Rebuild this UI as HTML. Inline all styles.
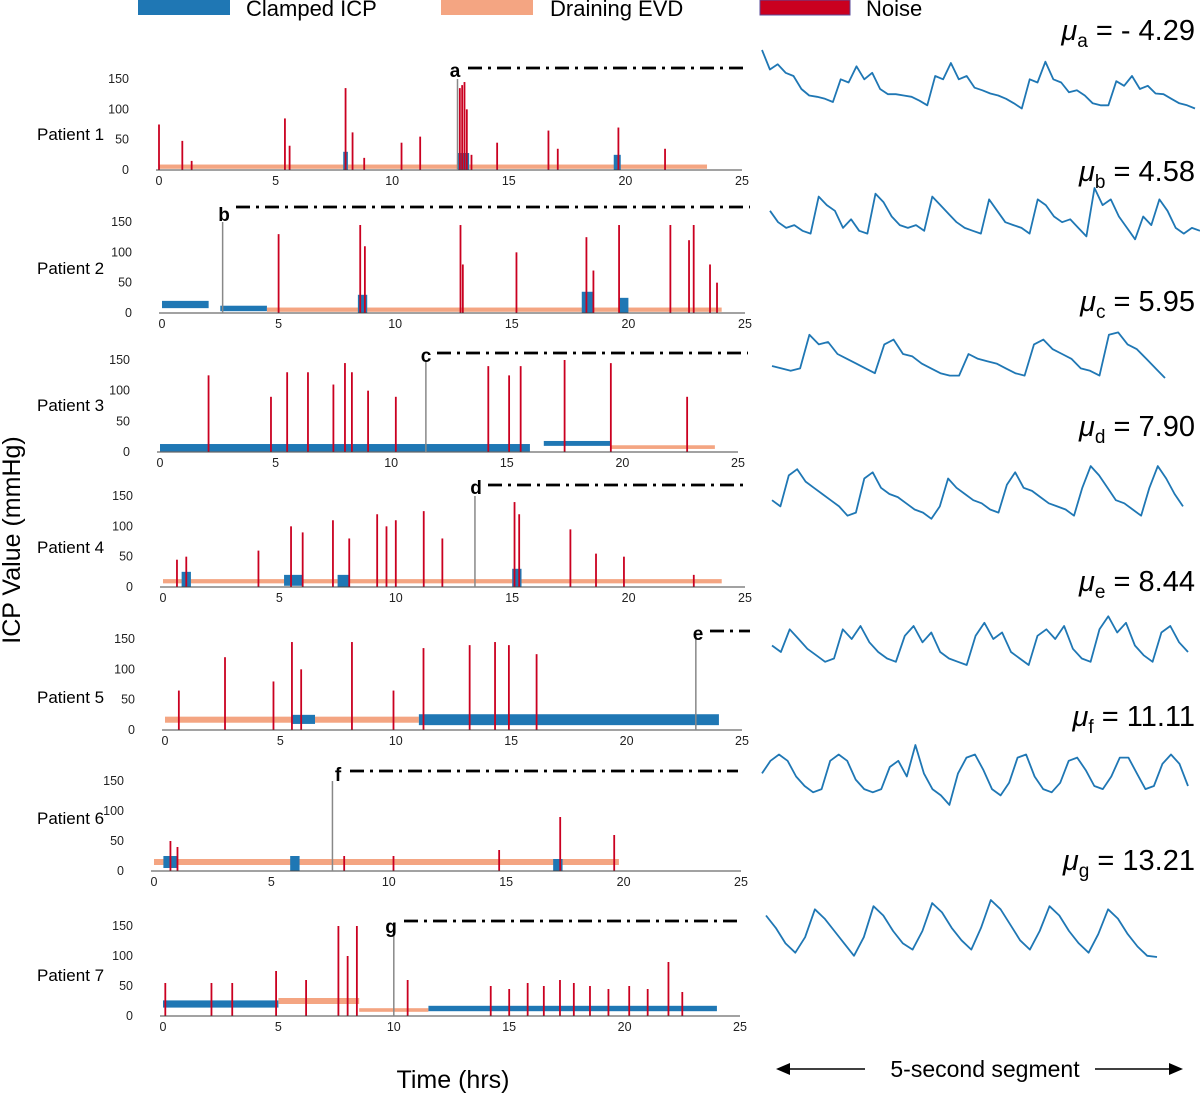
<!DOCTYPE html>
<html><head><meta charset="utf-8">
<style>
html,body{margin:0;padding:0;background:#fff;}
svg{display:block;font-family:"Liberation Sans",sans-serif;}
</style></head>
<body>
<svg id="fig" width="1200" height="1095" viewBox="0 0 1200 1095">
<g>
 <rect x="138" y="0" width="92" height="15" fill="#1f77b4"/>
 <text x="246" y="16" font-size="22">Clamped ICP</text>
 <rect x="441" y="0" width="92" height="15" fill="#f4a582"/>
 <text x="550" y="16" font-size="22">Draining EVD</text>
 <rect x="760" y="0" width="90" height="15" fill="#ca0020" stroke="#5a4a9a" stroke-width="1"/>
 <text x="866" y="16" font-size="22">Noise</text>
</g>
<text transform="translate(20,540) rotate(-90)" text-anchor="middle" font-size="25">ICP Value (mmHg)</text>
<text x="453" y="1088" text-anchor="middle" font-size="25">Time (hrs)</text>
<g>
 <line x1="780" y1="1069" x2="865" y2="1069" stroke="#000" stroke-width="1.5"/>
 <polygon points="776,1069 790,1063 790,1075" fill="#000"/>
 <line x1="1095" y1="1069" x2="1178" y2="1069" stroke="#000" stroke-width="1.5"/>
 <polygon points="1183,1069 1169,1063 1169,1075" fill="#000"/>
 <text x="985" y="1077" text-anchor="middle" font-size="23">5-second segment</text>
</g>
<g id="panels"></g>
<g id="waves"></g>
</svg>
<script>
const p1Spikes=[[0,75],[1,48],[1.4,15],[5.4,85],[5.6,40],[8,135],[8.3,62],[8.8,20],[10.4,45],[11.2,55],[12.9,135],[13,140],[13.1,145],[13.2,100],[13.4,25],[14.5,45],[16.7,65],[17.1,35],[19.7,70],[21.7,35]];
const p2Spikes=[[5,130],[8.5,145],[8.7,110],[12.8,145],[12.9,80],[15.2,100],[18.2,125],[18.5,70],[19.6,145],[21.8,145],[22.6,120],[22.8,145],[23.5,80],[23.8,50]];
const p3Spikes=[[2.1,125],[4.8,90],[5.5,130],[6.4,130],[7.5,110],[8,145],[8.3,130],[9,100],[10.2,90],[14.2,140],[15.1,125],[15.6,140],[17.5,150],[19.5,145],[22.8,90]];
const p4Spikes=[[0.6,45],[1,50],[4.1,60],[5.5,100],[6,90],[7.3,110],[8,80],[9.2,120],[9.6,100],[10,110],[11.2,125],[12,80],[15.1,140],[15.3,120],[17.5,95],[18.6,55],[19.8,50],[22.8,20]];
const p5Spikes=[[0.6,65],[2.6,120],[4.7,80],[5.5,145],[5.9,100],[8.1,145],[9.9,65],[11.2,135],[13.2,140],[14.3,145],[14.9,140],[16.1,125]];
const p6Spikes=[[0.7,50],[1,40],[8.1,25],[10.2,25],[14.7,35],[17.3,90],[19.6,60]];
const p7Spikes=[[0.1,55],[2.1,55],[3,55],[4.9,75],[6.2,60],[7.6,150],[8,100],[8.4,150],[10.6,60],[14.2,50],[15,45],[15.8,55],[16.5,50],[17.2,60],[17.8,55],[18.5,50],[19.3,45],[20.2,50],[21,45],[21.9,90],[22.5,40]];
const p1Bands=[[0,23.5,2,9,"e"],[7.9,8.1,0,30,"c"],[12.8,13.3,0,28,"c"],[19.5,19.8,0,25,"c"]];
const p2Bands=[[0,2,8,20,"c"],[2.5,4.5,3,12,"c"],[4.5,24,2,9,"e"],[8.4,8.8,0,30,"c"],[18,18.5,0,35,"c"],[19.6,20,0,25,"c"]];
const p3Bands=[[0,16,1,13,"c"],[16.6,19.5,10,18,"c"],[19.5,24,5,11,"e"]];
const p4Bands=[[0,24,6,13,"e"],[0.8,1.2,0,25,"c"],[5.2,6,2,20,"c"],[7.5,8,0,20,"c"],[15,15.4,0,30,"c"]];
const p5Bands=[[0,11,12,22,"e"],[5.5,6.5,10,25,"c"],[11,24,8,26,"c"]];
const p6Bands=[[0,19.8,10,20,"e"],[0.4,1,5,25,"c"],[5.8,6.2,0,25,"c"],[17,17.4,0,20,"c"]];
const p7Bands=[[0,5,14,26,"c"],[5,8.5,20,30,"e"],[8.5,11.5,7,13,"e"],[11.5,24,8,17,"c"]];
const markerTimes=[12.8,2.6,11.5,13.4,23,7.6,10];
const markerLetters=["a","b","c","d","e","f","g"];
const xTicks=[0,5,10,15,20,25];
const yTicks=[0,50,100,150];
const muSub=["a","b","c","d","e","f","g"];
const muVals=["- 4.29","4.58","5.95","7.90","8.44","11.11","13.21"];
const waveA=[1,0.7,0.78,0.65,0.6,0.4,0.3,0.28,0.25,0.2,0.55,0.5,0.75,0.55,0.65,0.4,0.32,0.32,0.3,0.28,0.22,0.15,0.6,0.55,0.8,0.55,0.6,0.42,0.38,0.33,0.3,0.25,0.18,0.1,0.55,0.5,0.82,0.55,0.5,0.35,0.38,0.3,0.18,0.15,0.15,0.52,0.45,0.6,0.4,0.45,0.33,0.32,0.25,0.18,0.15,0.1];
const waveB=[0.6,0.4,0.3,0.35,0.25,0.2,0.85,0.7,0.6,0.3,0.45,0.25,0.2,0.9,0.75,0.5,0.35,0.3,0.35,0.25,0.85,0.7,0.55,0.4,0.3,0.25,0.2,0.8,0.6,0.4,0.35,0.3,0.2,0.8,0.7,0.5,0.4,0.45,0.3,0.15,1,0.7,0.8,0.5,0.3,0.1,0.5,0.35,0.8,0.6,0.3,0.2,0.3,0.25];
const waveC=[0.25,0.2,0.15,0.2,0.9,0.7,0.75,0.5,0.4,0.3,0.2,0.1,0.7,0.8,0.5,0.45,0.3,0.2,0.1,0.05,0.05,0.5,0.4,0.35,0.3,0.2,0.1,0.05,0.7,0.8,0.6,0.5,0.4,0.2,0.15,0.05,0.9,0.95,0.7,0.6,0.4,0.2,0];
const waveD=[0.4,0.3,0.8,0.9,0.7,0.6,0.5,0.4,0.3,0.15,0.2,0.75,0.85,0.6,0.5,0.45,0.35,0.25,0.2,0.1,0.3,0.75,0.6,0.5,0.4,0.35,0.25,0.2,0.65,0.85,0.6,0.55,0.45,0.35,0.3,0.25,0.15,0.6,0.95,0.8,0.6,0.4,0.35,0.25,0.15,0.6,0.95,0.75,0.5,0.3];
const waveE=[0.5,0.4,0.75,0.6,0.45,0.35,0.25,0.3,0.75,0.6,0.8,0.55,0.4,0.3,0.25,0.65,0.8,0.55,0.7,0.4,0.3,0.25,0.2,0.65,0.85,0.6,0.7,0.4,0.3,0.2,0.65,0.75,0.6,0.8,0.45,0.3,0.25,0.75,0.95,0.7,0.85,0.5,0.35,0.25,0.7,0.8,0.55,0.4];
const waveF=[0.55,0.75,0.85,0.75,0.5,0.35,0.25,0.3,0.75,0.85,0.75,0.45,0.3,0.25,0.3,0.65,0.75,0.5,1,0.55,0.3,0.2,0.05,0.55,0.8,0.85,0.6,0.3,0.2,0.4,0.8,0.85,0.5,0.3,0.25,0.4,0.75,0.8,0.6,0.35,0.3,0.5,0.8,0.8,0.55,0.3,0.35,0.7,0.85,0.7,0.35];
const waveG=[0.75,0.55,0.3,0.15,0.4,0.85,0.7,0.5,0.3,0.1,0.4,0.9,0.75,0.5,0.3,0.2,0.5,0.95,0.8,0.55,0.35,0.2,0.55,1,0.85,0.6,0.35,0.2,0.5,0.9,0.75,0.5,0.3,0.15,0.45,0.85,0.7,0.45,0.25,0.1,0.08];

const NS="http://www.w3.org/2000/svg";
function mk(tag,attrs,parent){const e=document.createElementNS(NS,tag);for(const k in attrs)e.setAttribute(k,attrs[k]);parent.appendChild(e);return e;}
const panels=[
 {sp:p1Spikes,b:p1Bands,x0:159,x1:742,y0:170,y1:79,lab:134,mk:[455,75,468,745,68]},
 {sp:p2Spikes,b:p2Bands,x0:162,x1:745,y0:313,y1:222,lab:268,mk:[224,219,236,750,207]},
 {sp:p3Spikes,b:p3Bands,x0:160,x1:738,y0:452,y1:360,lab:405,mk:[426,360,437,748,353]},
 {sp:p4Spikes,b:p4Bands,x0:163,x1:745,y0:587,y1:496,lab:547,mk:[476,492,488,745,485]},
 {sp:p5Spikes,b:p5Bands,x0:165,x1:742,y0:730,y1:639,lab:697,mk:[698,638,710,750,631]},
 {sp:p6Spikes,b:p6Bands,x0:154,x1:741,y0:871,y1:781,lab:818,mk:[338,779,350,738,771]},
 {sp:p7Spikes,b:p7Bands,x0:163,x1:740,y0:1016,y1:926,lab:975,mk:[391,931,404,740,921]}
];
const pg=document.getElementById('panels');
panels.forEach((p,i)=>{
 const g=mk('g',{},pg);
 
 
 const xs=t=>p.x0+(p.x1-p.x0)*t/25, ys=v=>p.y0+(p.y1-p.y0)*v/150;
 const lt=mk('text',{x:37,y:p.lab+6,'font-size':17},g);lt.textContent='Patient '+(i+1);
 
 
 p.b.forEach(b=>{
  const r=mk('rect',{x:xs(b[0]),y:ys(b[3]),width:Math.max(1,xs(b[1])-xs(b[0])),height:ys(b[2])-ys(b[3]),fill:b[4]=="c"?"#1f77b4":"#f4a582"},g);
  
  
 });
 p.sp.forEach(s=>{
  const l=mk('line',{x1:xs(s[0]),x2:xs(s[0]),y1:ys(0),y2:ys(s[1]),stroke:"#ca0020","stroke-width":1.8},g);
  
  
 });
 mk('line',{x1:p.x0-3,x2:p.x1,y1:p.y0,y2:p.y0,stroke:"#444","stroke-width":1},g);
 xTicks.forEach(t=>{const tx=mk('text',{x:xs(t),y:p.y0+15,'font-size':12.5,'text-anchor':'middle',fill:'#222'},g);tx.textContent=t;
  
  });
 yTicks.forEach(v=>{const tx=mk('text',{x:p.x0-30,y:ys(v)+4,'font-size':12.5,'text-anchor':'end',fill:'#222'},g);tx.textContent=v;
  
  });
 const m=p.mk, mt=markerTimes[i];
 const gl=mk('line',{x1:xs(mt),x2:xs(mt),y1:ys(0),y2:ys(150),stroke:"#888","stroke-width":1.5},g);
 
 
 const ml=mk('text',{x:m[0],y:m[1]+2,'font-size':19,'font-weight':'bold','text-anchor':'middle'},g);ml.textContent=markerLetters[i];
 
 
 const dl=mk('line',{x1:m[2],x2:m[3],y1:m[4],y2:m[4],stroke:"#000","stroke-width":2.8,"stroke-dasharray":"14,6,3,6"},g);
 
 
});
const waves=[[waveA,762,1195,50,115],[waveB,770,1200,188,245],[waveC,772,1165,330,378],[waveD,772,1183,463,525],[waveE,772,1188,613,678],[waveF,762,1188,745,808],[waveG,766,1157,900,962]];
const muY=[40,181,311,436,591,726,870];
const wg=document.getElementById('waves');
waves.forEach((w,i)=>{
 const d=w[0], n=d.length;
 const pts=d.map((v,k)=>(w[1]+(w[2]-w[1])*k/(n-1)).toFixed(1)+','+(w[4]-(w[4]-w[3])*v).toFixed(1)).join(' ');
 const pl=mk('polyline',{points:pts,fill:'none',stroke:'#1f77b4','stroke-width':1.8,'stroke-linejoin':'round'},wg);
 
 
 const t=mk('text',{x:1195,y:muY[i],'font-size':29,'text-anchor':'end'},wg);
 t.innerHTML='<tspan font-style="italic">μ</tspan><tspan font-size="19" dy="7">'+muSub[i]+'</tspan><tspan dy="-7"> = '+muVals[i]+'</tspan>';
 
 
});
</script>
</body></html>
